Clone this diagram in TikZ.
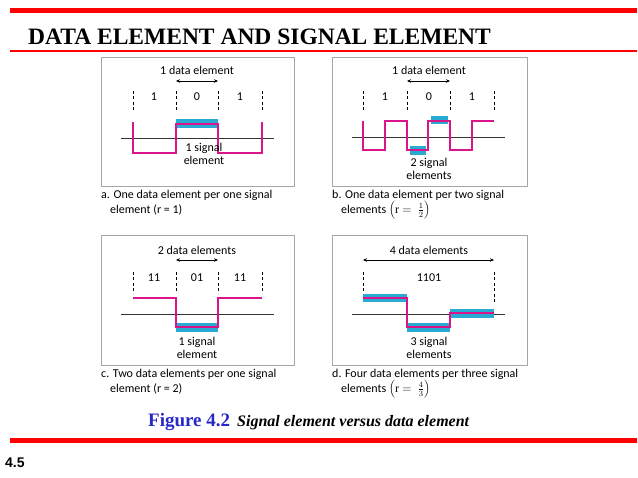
\documentclass[tikz,border=0pt]{standalone}
\usepackage{fontspec}
\setmainfont{Liberation Serif}
\newfontfamily\lab{Carlito}
\newfontfamily\hsans{Liberation Sans}
\usetikzlibrary{arrows.meta}
\definecolor{sred}{RGB}{255,0,0}
\definecolor{sig}{RGB}{220,20,140}
\definecolor{cy}{RGB}{40,170,210}
\definecolor{fblue}{RGB}{40,40,200}
\begin{document}
\begin{tikzpicture}[x=1pt,y=-1pt,
  panel/.style={draw=gray!70,line width=0.8pt},
  tick/.style={dashed,line width=0.7pt,dash pattern=on 3pt off 2.5pt},
  base/.style={line width=0.8pt,black!80},
  wave/.style={sig,line width=1.6pt},
  bar/.style={fill=cy,draw=none},
  txt/.style={font=\lab\fontsize{12}{13}\selectfont,inner sep=0pt},
  captxt/.style={font=\lab\fontsize{12}{14.5}\selectfont,inner sep=0pt,anchor=north west,align=left},
  dim/.style={{Stealth[length=4pt,width=3.5pt]}-{Stealth[length=4pt,width=3.5pt]},line width=0.6pt}]
\useasboundingbox (0,0) rectangle (638,478);
% rules and title
\fill[sred] (10,8) rectangle (637,13);
\fill[sred] (10,50.5) rectangle (637,52.5);
\fill[sred] (10,438) rectangle (637,443);
\node[anchor=west,inner sep=0pt,font=\bfseries\fontsize{23.5}{26}\selectfont] (title) at (28,37) {DATA ELEMENT AND SIGNAL ELEMENT};
\node[anchor=west,inner sep=0pt] (fig) at (148,422) {\textcolor{fblue}{\bfseries\fontsize{19}{21}\selectfont Figure 4.2}\hspace{7pt}{\bfseries\itshape\fontsize{16}{18}\selectfont Signal element versus data element}};
\node[anchor=west,inner sep=0pt,font=\hsans\bfseries\fontsize{14}{16}\selectfont] (pg) at (5,463) {4.5};

% ---------- panel a
\draw[panel] (101,57) rectangle (294,186);
\node[txt] (at) at (197,70) {1 data element};
\coordinate (a1) at (176,81); \coordinate (a2) at (218,81);
\draw[dim] (a1) -- (a2);
\foreach \x in {133,176,218,262} \draw[tick] (\x,91) -- (\x,111);
\node[txt] at (154,97) {1}; \node[txt] at (197,97) {0}; \node[txt] at (240,97) {1};
\draw[base] (121,138) -- (274,138);
\fill[bar] (176,119) rectangle (218,128);
\draw[wave] (133,122) -- (133,153) -- (176,153) -- (176,124) -- (218,124) -- (218,153) -- (262,153) -- (262,122);
\node[txt,align=center] at (204,154) {1 signal\\element};
\node[captxt] at (101,190) {a. One data element per one signal\\\hspace*{9pt}element (r = 1)};

% ---------- panel b
\draw[panel] (332,57) rectangle (527,186);
\node[txt] (bt) at (429,70) {1 data element};
\coordinate (b1) at (407,81); \coordinate (b2) at (450,81);
\draw[dim] (b1) -- (b2);
\foreach \x in {363,407,450,494} \draw[tick] (\x,91) -- (\x,111);
\node[txt] at (385,97) {1}; \node[txt] at (429,97) {0}; \node[txt] at (472,97) {1};
\draw[base] (352,137) -- (505,137);
\fill[bar] (410,146) rectangle (426,155);
\fill[bar] (431,116) rectangle (448,124);
\draw[wave] (363,121) -- (363,150) -- (385,150) -- (385,121) -- (407,121) -- (407,150) -- (428,150) -- (428,121) -- (450,121) -- (450,150) -- (472,150) -- (472,121) -- (494,121);
\node[txt,align=center] at (429,169) {2 signal\\elements};
\node[captxt] at (332,190) {b. One data element per two signal\\\hspace*{9pt}elements $\left(\mathrm{r}=\ \frac{1}{2}\right)$};

% ---------- panel c
\draw[panel] (101,235) rectangle (294,365);
\node[txt] (ct) at (197,250) {2 data elements};
\coordinate (c1) at (176,260); \coordinate (c2) at (218,260);
\draw[dim] (c1) -- (c2);
\foreach \x in {133,176,218,262} \draw[tick] (\x,272) -- (\x,293);
\node[txt] at (154,278) {11}; \node[txt] at (197,278) {01}; \node[txt] at (240,278) {11};
\draw[base] (121,314) -- (274,314);
\fill[bar] (176,323) rectangle (218,332);
\draw[wave] (133,298) -- (176,298) -- (176,327) -- (218,327) -- (218,298) -- (262,298);
\node[txt,align=center] at (197,348) {1 signal\\element};
\node[captxt] at (101,369) {c. Two data elements per one signal\\\hspace*{9pt}element (r = 2)};

% ---------- panel d
\draw[panel] (332,235) rectangle (527,365);
\node[txt] (dt) at (429,250) {4 data elements};
\coordinate (d1) at (363,260); \coordinate (d2) at (494,260);
\draw[dim] (d1) -- (d2);
\draw[tick] (363,272) -- (363,293);
\draw[tick] (494,272) -- (494,303);
\node[txt] at (429,278) {1101};
\draw[base] (352,314) -- (505,314);
\fill[bar] (363,294) rectangle (407,302);
\fill[bar] (407,323) rectangle (450,332);
\fill[bar] (450,309) rectangle (494,318);
\draw[wave] (363,298) -- (407,298) -- (407,327) -- (450,327) -- (450,313) -- (494,313);
\node[txt,align=center] at (429,348) {3 signal\\elements};
\node[captxt] at (332,369) {d. Four data elements per three signal\\\hspace*{9pt}elements $\left(\mathrm{r}=\ \frac{4}{3}\right)$};
\end{tikzpicture}
\end{document}
